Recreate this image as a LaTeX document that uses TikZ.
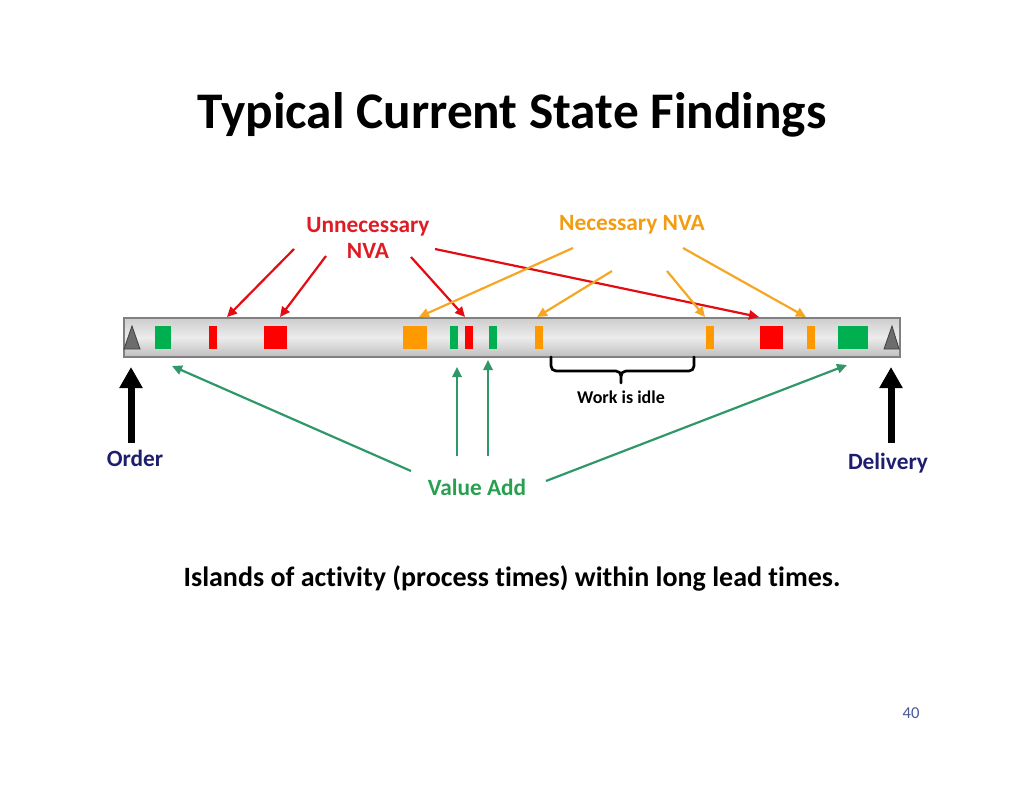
\documentclass[tikz,border=0pt]{standalone}
\usepackage{fontspec}
\setmainfont{Carlito}[Ligatures=NoCommon]
\usetikzlibrary{arrows.meta}
\definecolor{tred}{RGB}{222,28,36}
\definecolor{ared}{RGB}{226,12,18}
\definecolor{bred}{RGB}{255,0,0}
\definecolor{torange}{RGB}{243,156,18}
\definecolor{aorange}{RGB}{245,166,35}
\definecolor{borange}{RGB}{255,153,0}
\definecolor{bgreen}{RGB}{0,176,80}
\definecolor{agreen}{RGB}{48,152,104}
\definecolor{tgreen}{RGB}{40,160,80}
\definecolor{navy}{RGB}{30,30,110}
\definecolor{pgnum}{RGB}{70,90,150}
\tikzset{
  box/.style={minimum width=#1, minimum height=23*0.75pt, inner sep=0pt, outer sep=0pt, anchor=south west},
  lab/.style={font=\bfseries\fontsize{17.5}{19.5}\selectfont, align=center, inner sep=0pt},
  carrow/.style={line width=2.2pt*0.75, -{Triangle[length=7.5pt,width=7pt]}},
  bigarrow/.style={line width=7*0.75pt, -{Triangle[length=21*0.75pt,width=22*0.75pt]}},
  tri/.style={fill=gray!85!black, draw=gray!50!black, line width=0.6pt}
}
\begin{document}
\begin{tikzpicture}[x=0.75pt,y=-0.75pt]
\useasboundingbox (0,0) rectangle (1024,792);
% title
\node[font=\bfseries\fontsize{38.5}{46}\selectfont, inner sep=0pt] (title) at (512,115) {Typical Current State Findings};
% bar
\path[draw={rgb,255:red,128;green,128;blue,128}, line width=1.5pt, top color={rgb,255:red,205;green,205;blue,205}, bottom color={rgb,255:red,190;green,190;blue,190}, middle color={rgb,255:red,236;green,236;blue,236}] (124,318) rectangle (900,357);
% triangles
\draw[tri] (124,349) -- (132,326) -- (140,349) -- cycle;
\draw[tri] (884,349) -- (892,326) -- (899,349) -- cycle;
% boxes
\node[box=16*0.75pt, fill=bgreen] (g1) at (155,349) {};
\node[box=8*0.75pt, fill=bred] (r1) at (209,349) {};
\node[box=23*0.75pt, fill=bred] (r2) at (264,349) {};
\node[box=24*0.75pt, fill=borange] (o1) at (403,349) {};
\node[box=8*0.75pt, fill=bgreen] (g2) at (450,349) {};
\node[box=8*0.75pt, fill=bred] (r3) at (465,349) {};
\node[box=8*0.75pt, fill=bgreen] (g3) at (489,349) {};
\node[box=8*0.75pt, fill=borange] (o2) at (535,349) {};
\node[box=8*0.75pt, fill=borange] (o3) at (706,349) {};
\node[box=23*0.75pt, fill=bred] (r4) at (760,349) {};
\node[box=8*0.75pt, fill=borange] (o4) at (807,349) {};
\node[box=30*0.75pt, fill=bgreen] (g4) at (838,349) {};
% brace
\draw[line width=2pt, line cap=round, line join=round] (551,357) -- (551,366) to[out=-90,in=180] (556,371) -- (616,371) to[out=0,in=90] (621,376) -- (621,383);
\draw[line width=2pt, line cap=round, line join=round] (694,357) -- (694,366) to[out=-90,in=0] (689,371) -- (626,371) to[out=180,in=90] (621,376);
\node[font=\bfseries\fontsize{13.5}{15}\selectfont, inner sep=0pt] (idle) at (621,397) {Work is idle};
% labels
\node[lab, text=tred] (unn) at (368,238) {Unnecessary\\NVA};
\node[lab, text=torange] (nec) at (632,225) {Necessary NVA};
\node[lab, text=tgreen] (va) at (477,487) {Value Add};
\node[lab, text=navy] (order) at (135,458) {Order};
\node[lab, text=navy] (deliv) at (888,463) {Delivery};
\node[font=\bfseries\fontsize{21}{25}\selectfont, inner sep=0pt] (islands) at (512,578) {Islands of activity (process times) within long lead times.};
\node[font=\fontsize{12.5}{14}\selectfont, text=pgnum, inner sep=0pt] (pg) at (911,713) {40};
% red arrows
\coordinate (ur1s) at (294,249); \coordinate (ur1e) at (227,317);
\coordinate (ur2s) at (326,256); \coordinate (ur2e) at (280,317);
\coordinate (ur3s) at (411,257); \coordinate (ur3e) at (465,317);
\coordinate (ur4s) at (435,249); \coordinate (ur4e) at (759,317);
\draw[carrow, ared] (ur1s) -- (ur1e);
\draw[carrow, ared] (ur2s) -- (ur2e);
\draw[carrow, ared] (ur3s) -- (ur3e);
\draw[carrow, ared] (ur4s) -- (ur4e);
% orange arrows
\coordinate (n1s) at (573,248); \coordinate (n1e) at (419,317);
\coordinate (n2s) at (612,271); \coordinate (n2e) at (537,317);
\coordinate (n3s) at (667,271); \coordinate (n3e) at (705,317);
\coordinate (n4s) at (683,248); \coordinate (n4e) at (806,317);
\draw[carrow, aorange] (n1s) -- (n1e);
\draw[carrow, aorange] (n2s) -- (n2e);
\draw[carrow, aorange] (n3s) -- (n3e);
\draw[carrow, aorange] (n4s) -- (n4e);
% green arrows
\coordinate (v1s) at (411,471); \coordinate (v1e) at (172,366);
\coordinate (v2s) at (457,456); \coordinate (v2e) at (457,367);
\coordinate (v3s) at (488,456); \coordinate (v3e) at (488,360);
\coordinate (v4s) at (546,481); \coordinate (v4e) at (847,365);
\draw[carrow, agreen] (v1s) -- (v1e);
\draw[carrow, agreen] (v2s) -- (v2e);
\draw[carrow, agreen] (v3s) -- (v3e);
\draw[carrow, agreen] (v4s) -- (v4e);
% big arrows
\coordinate (oa) at (131,443); \coordinate (ob) at (131,367);
\coordinate (da) at (891,443); \coordinate (db) at (891,367);
\draw[bigarrow] (oa) -- (ob);
\draw[bigarrow] (da) -- (db);
\end{tikzpicture}
\end{document}
